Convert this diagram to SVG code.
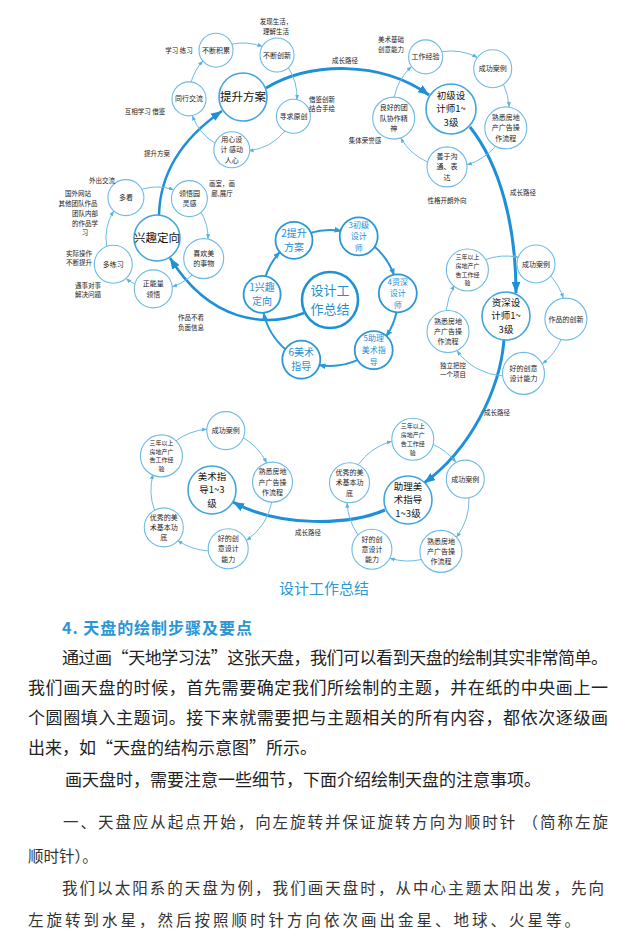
<svg xmlns="http://www.w3.org/2000/svg" width="640" height="950" viewBox="0 0 640 950">
<defs>
<style>
text{font-family:"Noto Sans CJK SC","Noto Sans",sans-serif}
.sn{fill:#fff;stroke:#6cbbe6;stroke-width:1.1}
.mn{fill:#fff;stroke:#43a5dd;stroke-width:1.6}
.cn{fill:#fff;stroke:#2a98d8;stroke-width:1.8}
.cc{fill:#fff;stroke:#1f92d6;stroke-width:2.6}
.ring{fill:none;stroke:#6cbbe6;stroke-width:1;marker-end:url(#as)}
.cring{fill:none;stroke:#2a98d8;stroke-width:2;marker-end:url(#ac)}
.sp{fill:none;stroke:#1e90d8;stroke-width:3;marker-end:url(#al)}
.st{font-size:7px;fill:#222;text-anchor:middle}
.st4{font-size:6px;fill:#222;text-anchor:middle}
.mt{font-size:9.5px;fill:#111;text-anchor:middle}
.mt1{font-size:11.5px;fill:#111;text-anchor:middle}
.ct{font-size:10px;fill:#1f8fd4;text-anchor:middle}
.ct3{font-size:8px;fill:#1f8fd4;text-anchor:middle}
.cct{font-size:13px;fill:#1f8fd4;text-anchor:middle}
.lb{font-size:6.5px;fill:#222;text-anchor:middle}
.body{font-size:17px;fill:#222}
.body2{font-size:15.5px;fill:#333}
</style>
<marker id="as" viewBox="0 0 10 10" refX="10" refY="5" markerWidth="5" markerHeight="5" markerUnits="userSpaceOnUse" orient="auto"><path d="M0,1 L10,5 L0,9 z" fill="#5ab0df"/></marker>
<marker id="ac" viewBox="0 0 10 10" refX="10" refY="5" markerWidth="7" markerHeight="7" markerUnits="userSpaceOnUse" orient="auto"><path d="M0,1 L10,5 L0,9 z" fill="#2a98d8"/></marker>
<marker id="al" viewBox="0 0 10 8" refX="10" refY="4" markerWidth="11" markerHeight="9" markerUnits="userSpaceOnUse" orient="auto"><path d="M0,0 L10,4 L0,8 z" fill="#1e90d8"/></marker>
</defs>
<rect width="640" height="950" fill="#fff"/>

<g id="connectors">
<path class="sp" style="stroke-width:2.5" d="M304,313 C265,328 210,322 170,258"/>
<path class="sp" style="stroke-width:2.5" d="M159,215 C160,175 180,140 222,111"/>
<path class="sp" d="M266,88 C310,62 380,60 429,95"/>
<path class="sp" d="M470,127 C500,165 516,225 516,293"/>
<path class="sp" d="M504,340 C500,390 470,450 424,483"/>
<path class="sp" d="M385,510 C350,525 280,528 233,502"/>
<path class="cring" d="M265.3,277 A68,68 0 0 1 280.1,251.8"/>
<path class="cring" d="M310.3,232.9 A68,68 0 0 1 341.6,231"/>
<path class="cring" d="M373.9,246.1 A68,68 0 0 1 394.2,275.6"/>
<path class="cring" d="M396.7,311.2 A68,68 0 0 1 385.8,336.8"/>
<path class="cring" d="M358.5,359.7 A68,68 0 0 1 318.4,365"/>
<path class="cring" d="M286.1,349.9 A68,68 0 0 1 263.5,312.4"/>
<path class="ring" d="M191.1,82.1 A54,54 0 0 1 202.9,60.9"/>
<path class="ring" d="M231.8,44.2 A54,54 0 0 1 262.4,46.6"/>
<path class="ring" d="M288.3,67.6 A54,54 0 0 1 296.9,99.8"/>
<path class="ring" d="M285,131 A54,54 0 0 1 248.6,150.7"/>
<path class="ring" d="M216,143.8 A54,54 0 0 1 192.3,115.5"/>
<path class="ring" d="M394.2,97 A58,58 0 0 1 411.5,66.5"/>
<path class="ring" d="M441.8,51.7 A58,58 0 0 1 477.4,57.4"/>
<path class="ring" d="M503.5,84.4 A58,58 0 0 1 509,107.1"/>
<path class="ring" d="M495.5,146.2 A58,58 0 0 1 466.9,164.8"/>
<path class="ring" d="M427.5,162 A58,58 0 0 1 400.7,137.9"/>
<path class="ring" d="M141.8,189.3 A51,51 0 0 1 173.8,189.8"/>
<path class="ring" d="M201.1,212.3 A51,51 0 0 1 208,239.1"/>
<path class="ring" d="M192.2,274.9 A51,51 0 0 1 172.2,286.7"/>
<path class="ring" d="M134.9,284 A51,51 0 0 1 126,278.5"/>
<path class="ring" d="M106.7,246.4 A51,51 0 0 1 113.8,210.9"/>
<path class="ring" d="M484.7,259.9 A60,60 0 0 1 518.3,257.3"/>
<path class="ring" d="M550.7,276 A60,60 0 0 1 563.3,298.3"/>
<path class="ring" d="M561.1,339.6 A60,60 0 0 1 542.3,363.8"/>
<path class="ring" d="M502.7,375.9 A60,60 0 0 1 456.9,350.6"/>
<path class="ring" d="M446.2,310.6 A60,60 0 0 1 454.5,285.3"/>
<path class="ring" d="M358.2,464.7 A61,61 0 0 1 391.9,441.2"/>
<path class="ring" d="M433.1,444.4 A61,61 0 0 1 456.1,462.5"/>
<path class="ring" d="M469,497.8 A61,61 0 0 1 456.3,537.2"/>
<path class="ring" d="M421.5,559.5 A61,61 0 0 1 389.8,558.2"/>
<path class="ring" d="M357.9,534.8 A61,61 0 0 1 347.1,502.7"/>
<path class="ring" d="M175.2,441.3 A61,61 0 0 1 206.9,429.2"/>
<path class="ring" d="M243.4,437.7 A61,61 0 0 1 266.7,463"/>
<path class="ring" d="M271.8,502.2 A61,61 0 0 1 246.4,540.4"/>
<path class="ring" d="M208.3,550.9 A61,61 0 0 1 177.6,540.4"/>
<path class="ring" d="M154.6,510.8 A61,61 0 0 1 153.1,474.1"/>
</g>

<g id="center"><circle class="cc" cx="330" cy="300" r="28"/><text class="cct"><tspan x="330" y="295.1">设计工</tspan><tspan x="330" y="313.9">作总结</tspan></text></g>
<g id="c1"><circle class="cn" cx="262.1" cy="294.4" r="18.5"/><text class="ct"><tspan x="262.1" y="290.7">1兴趣</tspan><tspan x="262.1" y="305.2">定向</tspan></text></g>
<g id="c2"><circle class="cn" cx="294" cy="240.3" r="18.5"/><text class="ct"><tspan x="294" y="236.6">2提升</tspan><tspan x="294" y="251.1">方案</tspan></text></g>
<g id="c3"><circle class="cn" cx="358.7" cy="236.4" r="19"/><text class="ct3"><tspan x="358.7" y="227.6">3初级</tspan><tspan x="358.7" y="239.2">设计</tspan><tspan x="358.7" y="250.8">师</tspan></text></g>
<g id="c4"><circle class="cn" cx="397.8" cy="293.3" r="19"/><text class="ct3"><tspan x="397.8" y="284.5">4资深</tspan><tspan x="397.8" y="296.1">设计</tspan><tspan x="397.8" y="307.7">师</tspan></text></g>
<g id="c5"><circle class="cn" cx="373.7" cy="350.1" r="19"/><text class="ct3"><tspan x="373.7" y="341.3">5助理</tspan><tspan x="373.7" y="352.9">美术指</tspan><tspan x="373.7" y="364.5">导</tspan></text></g>
<g id="c6"><circle class="cn" cx="301.3" cy="359.6" r="19"/><text class="ct"><tspan x="301.3" y="355.9">6美术</tspan><tspan x="301.3" y="370.4">指导</tspan></text></g>

<g id="nodeA"><circle class="mn" cx="243" cy="97" r="24"/><text class="mt1" x="243" y="101">提升方案</text></g>
<g id="nodeA1"><circle class="sn" cx="216" cy="50.2" r="17"/><text class="st" x="216" y="52.7">不断积累</text></g>
<g id="nodeA2"><circle class="sn" cx="277" cy="55" r="17"/><text class="st" x="277" y="57.5">不断创新</text></g>
<g id="nodeA3"><circle class="sn" cx="293.4" cy="116.3" r="17"/><text class="st" x="293.4" y="118.8">寻求原创</text></g>
<g id="nodeA4"><circle class="sn" cx="231.8" cy="149.8" r="18"/><text class="st"><tspan x="231.8" y="142.1">用心设</tspan><tspan x="231.8" y="152.3">计 感动</tspan><tspan x="231.8" y="162.5">人心</tspan></text></g>
<g id="nodeA5"><circle class="sn" cx="189" cy="98.9" r="17"/><text class="st" x="189" y="101.4">同行交流</text></g>

<g id="nodeB"><circle class="mn" cx="451" cy="109" r="25"/><text class="mt"><tspan x="451" y="98.5">初级设</tspan><tspan x="451" y="112.3">计师1~</tspan><tspan x="451" y="126.1">3级</tspan></text></g>
<g id="nodeB1"><circle class="sn" cx="425.6" cy="56.9" r="17"/><text class="st" x="425.6" y="59.4">工作经验</text></g>
<g id="nodeB2"><circle class="sn" cx="492.7" cy="68.7" r="19"/><text class="st" x="492.7" y="71.2">成功案例</text></g>
<g id="nodeB3"><circle class="sn" cx="505.8" cy="127.9" r="21"/><text class="st"><tspan x="505.8" y="120.2">熟悉房地</tspan><tspan x="505.8" y="130.4">产广告操</tspan><tspan x="505.8" y="140.6">作流程</tspan></text></g>
<g id="nodeB4"><circle class="sn" cx="447" cy="166.9" r="20"/><text class="st"><tspan x="447" y="159.2">善于沟</tspan><tspan x="447" y="169.4">通、表</tspan><tspan x="447" y="179.6">达</tspan></text></g>
<g id="nodeB5"><circle class="sn" cx="393.7" cy="118.1" r="21"/><text class="st"><tspan x="393.7" y="110.4">良好的团</tspan><tspan x="393.7" y="120.6">队协作精</tspan><tspan x="393.7" y="130.8">神</tspan></text></g>

<g id="nodeC"><circle class="mn" cx="157" cy="238" r="23"/><text class="mt1" x="157" y="242">兴趣定向</text></g>
<g id="nodeC1"><circle class="sn" cx="125.9" cy="197.6" r="18"/><text class="st" x="125.9" y="200.1">多看</text></g>
<g id="nodeC2"><circle class="sn" cx="189.4" cy="198.6" r="18"/><text class="st"><tspan x="189.4" y="196">领悟园</tspan><tspan x="189.4" y="206.2">灵感</tspan></text></g>
<g id="nodeC3"><circle class="sn" cx="203.7" cy="258.6" r="20"/><text class="st"><tspan x="203.7" y="256">喜欢美</tspan><tspan x="203.7" y="266.2">的事物</tspan></text></g>
<g id="nodeC4"><circle class="sn" cx="153.3" cy="288.9" r="19"/><text class="st"><tspan x="153.3" y="286.3">正能量</tspan><tspan x="153.3" y="296.5">领悟</tspan></text></g>
<g id="nodeC5"><circle class="sn" cx="113.3" cy="264.3" r="19"/><text class="st" x="113.3" y="266.8">多练习</text></g>

<g id="nodeD"><circle class="mn" cx="506" cy="316" r="24"/><text class="mt"><tspan x="506" y="305.5">资深设</tspan><tspan x="506" y="319.3">计师1~</tspan><tspan x="506" y="333.1">3级</tspan></text></g>
<g id="nodeD1"><circle class="sn" cx="467.4" cy="270" r="21"/><text class="st4"><tspan x="467.4" y="258.9">三年以上</tspan><tspan x="467.4" y="267.7">房地产广</tspan><tspan x="467.4" y="276.5">告工作经</tspan><tspan x="467.4" y="285.3">验</tspan></text></g>
<g id="nodeD2"><circle class="sn" cx="536" cy="264" r="19"/><text class="st" x="536" y="266.5">成功案例</text></g>
<g id="nodeD3"><circle class="sn" cx="565.9" cy="319.1" r="21"/><text class="st" x="565.9" y="321.6">作品的创新</text></g>
<g id="nodeD4"><circle class="sn" cx="523.5" cy="373.4" r="21"/><text class="st"><tspan x="523.5" y="370.8">好的创意</tspan><tspan x="523.5" y="381">设计能力</tspan></text></g>
<g id="nodeD5"><circle class="sn" cx="448" cy="331.5" r="21"/><text class="st"><tspan x="448" y="323.8">熟悉房地</tspan><tspan x="448" y="334">产广告操</tspan><tspan x="448" y="344.2">作流程</tspan></text></g>

<g id="nodeE"><circle class="mn" cx="408" cy="500" r="24"/><text class="mt"><tspan x="408" y="489.5">助理美</tspan><tspan x="408" y="503.3">术指导</tspan><tspan x="408" y="517.1">1~3级</tspan></text></g>
<g id="nodeE1"><circle class="sn" cx="412.8" cy="439.2" r="21"/><text class="st4"><tspan x="412.8" y="428.1">三年以上</tspan><tspan x="412.8" y="436.9">房地产广</tspan><tspan x="412.8" y="445.7">告工作经</tspan><tspan x="412.8" y="454.5">验</tspan></text></g>
<g id="nodeE2"><circle class="sn" cx="465.3" cy="479.1" r="19"/><text class="st" x="465.3" y="481.6">成功案例</text></g>
<g id="nodeE3"><circle class="sn" cx="440.9" cy="551.4" r="21"/><text class="st"><tspan x="440.9" y="543.7">熟悉房地</tspan><tspan x="440.9" y="553.9">产广告操</tspan><tspan x="440.9" y="564.1">作流程</tspan></text></g>
<g id="nodeE4"><circle class="sn" cx="371.9" cy="549.2" r="20"/><text class="st"><tspan x="371.9" y="541.5">好的创</tspan><tspan x="371.9" y="551.7">意设计</tspan><tspan x="371.9" y="561.9">能力</tspan></text></g>
<g id="nodeE5"><circle class="sn" cx="349.5" cy="482.8" r="20"/><text class="st"><tspan x="349.5" y="475.1">优秀的美</tspan><tspan x="349.5" y="485.3">术基本功</tspan><tspan x="349.5" y="495.5">底</tspan></text></g>

<g id="nodeF"><circle class="mn" cx="212" cy="490" r="24"/><text class="mt"><tspan x="212" y="479.5">美术指</tspan><tspan x="212" y="493.3">导1~3</tspan><tspan x="212" y="507.1">级</tspan></text></g>
<g id="nodeF1"><circle class="sn" cx="225.8" cy="430.6" r="19"/><text class="st" x="225.8" y="433.1">成功案例</text></g>
<g id="nodeF2"><circle class="sn" cx="272.5" cy="482.1" r="20"/><text class="st"><tspan x="272.5" y="474.4">熟悉房地</tspan><tspan x="272.5" y="484.6">产广告操</tspan><tspan x="272.5" y="494.8">作流程</tspan></text></g>
<g id="nodeF3"><circle class="sn" cx="228.2" cy="548.8" r="20"/><text class="st"><tspan x="228.2" y="541.1">好的创</tspan><tspan x="228.2" y="551.3">意设计</tspan><tspan x="228.2" y="561.5">能力</tspan></text></g>
<g id="nodeF4"><circle class="sn" cx="163.8" cy="527.4" r="19.5"/><text class="st"><tspan x="163.8" y="519.7">优秀的美</tspan><tspan x="163.8" y="529.9">术基本功</tspan><tspan x="163.8" y="540.1">底</tspan></text></g>
<g id="nodeF5"><circle class="sn" cx="161.4" cy="455.9" r="21"/><text class="st4"><tspan x="161.4" y="444.8">三年以上</tspan><tspan x="161.4" y="453.6">房地产广</tspan><tspan x="161.4" y="462.4">告工作经</tspan><tspan x="161.4" y="471.2">验</tspan></text></g>

<g id="labels">
<text class="lb"><tspan x="276" y="24">发现生活，</tspan><tspan x="276" y="33.5">理解生活</tspan></text>
<text class="lb" x="179" y="53">学习 练习</text>
<text class="lb" x="145" y="114">互相学习 借鉴</text>
<text class="lb"><tspan x="322" y="101.5">借鉴创新</tspan><tspan x="322" y="111">结合手绘</tspan></text>
<text class="lb" x="157" y="156">提升方案</text>
<text class="lb" x="345" y="63">成长路径</text>
<text class="lb"><tspan x="391" y="42">美术基础</tspan><tspan x="391" y="51.5">创意能力</tspan></text>
<text class="lb" x="365" y="143">集体荣誉感</text>
<text class="lb" x="447" y="203">性格开朗外向</text>
<text class="lb" x="523" y="195">成长路径</text>
<text class="lb" x="102" y="183">外出交流</text>
<text class="lb"><tspan x="78" y="196">国外网站</tspan><tspan x="78" y="205.5">其他团队作品</tspan></text>
<text class="lb"><tspan x="85" y="216">团队内部</tspan><tspan x="85" y="225.5">的作品学</tspan><tspan x="85" y="235">习</tspan></text>
<text class="lb"><tspan x="79" y="255.5">实际操作</tspan><tspan x="79" y="265">不断提升</tspan></text>
<text class="lb"><tspan x="88" y="287.5">遇事对事</tspan><tspan x="88" y="297">解决问题</tspan></text>
<text class="lb"><tspan x="191" y="320">作品不看</tspan><tspan x="191" y="329.5">负面信息</tspan></text>
<text class="lb"><tspan x="222" y="186">画室，画</tspan><tspan x="222" y="195.5">廊,展厅</tspan></text>
<text class="lb"><tspan x="453" y="367.5">独立把控</tspan><tspan x="453" y="377">一个项目</tspan></text>
<text class="lb" x="497" y="415">成长路径</text>
<text class="lb" x="308" y="535">成长路径</text>
</g>

<g id="text">
<text x="324" y="594" style="font-size:15px;fill:#2a9ad6;text-anchor:middle">设计工作总结</text>
<text x="62" y="634" style="font-size:16px;font-weight:bold;fill:#2a96d4" textLength="190">4. 天盘的绘制步骤及要点</text>
<text class="body" x="62" y="664" textLength="546">通过画“天地学习法”这张天盘，我们可以看到天盘的绘制其实非常简单。</text>
<text class="body" x="28" y="694" textLength="580">我们画天盘的时候，首先需要确定我们所绘制的主题，并在纸的中央画上一</text>
<text class="body" x="28" y="724" textLength="580">个圆圈填入主题词。接下来就需要把与主题相关的所有内容，都依次逐级画</text>
<text class="body" x="28" y="754">出来，如“天盘的结构示意图”所示。</text>
<text class="body" x="65" y="786">画天盘时，需要注意一些细节，下面介绍绘制天盘的注意事项。</text>
<text class="body2" x="63" y="828" textLength="545">一、天盘应从起点开始，向左旋转并保证旋转方向为顺时针 （简称左旋</text>
<text class="body2" x="28" y="862">顺时针）。</text>
<text class="body2" x="62" y="894" textLength="542">我们以太阳系的天盘为例，我们画天盘时，从中心主题太阳出发，先向</text>
<text class="body2" x="28" y="926" textLength="552">左旋转到水星，然后按照顺时针方向依次画出金星、地球、火星等。</text>
</g>
</svg>
